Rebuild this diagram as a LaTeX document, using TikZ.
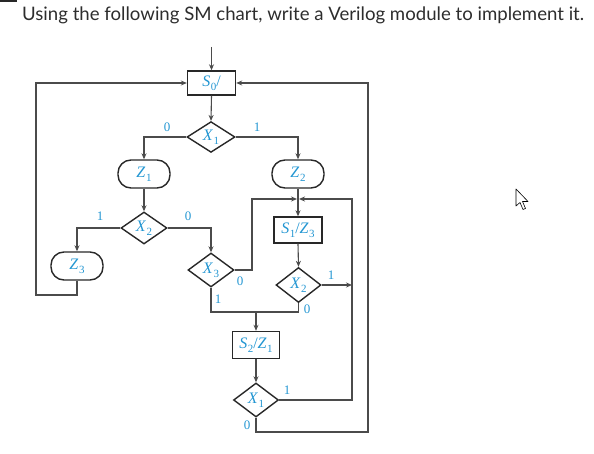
\documentclass[tikz,border=0pt]{standalone}
\usepackage{fontspec}
\setmainfont{Lato}
\newfontfamily\nodefont{Liberation Serif}
\usetikzlibrary{shapes.geometric,arrows.meta}
\definecolor{lbl}{RGB}{35,150,210}
\definecolor{ln}{RGB}{75,75,75}
\definecolor{bd}{RGB}{40,40,40}
\newcommand{\vr}[2]{\textit{#1}\kern0.5pt\raisebox{-0.25em}{\fontsize{11}{11}\selectfont #2}}
\begin{document}
\begin{tikzpicture}[x=1pt,y=-1pt,
  arr/.style={-{Stealth[length=6pt,width=5pt]}},
  conn/.style={draw=ln,line width=1.1pt},
  statebox/.style={draw=bd,line width=1.4pt,rectangle,inner sep=0pt,text=lbl,font=\nodefont\fontsize{16}{16}\selectfont},
  decbox/.style={draw=bd,line width=1.4pt,diamond,inner sep=0pt,text=lbl,font=\nodefont\fontsize{16}{16}\selectfont},
  outbox/.style={draw=bd,line width=1.4pt,rectangle,rounded corners=13pt,inner sep=0pt,minimum width=52pt,minimum height=28pt,text=lbl,font=\nodefont\fontsize{16}{16}\selectfont},
  lab/.style={text=lbl,font=\nodefont\fontsize{13}{13}\selectfont,inner sep=0pt}]
\useasboundingbox (0,0) rectangle (594,454);
\fill[bd] (0,0) rectangle (17,2);
\node[anchor=base west,inner sep=0pt,text={rgb,255:red,45;green,45;blue,45},font=\fontsize{18.6}{18.6}\selectfont] (title) at (22,21) {Using the following SM chart, write a Verilog module to implement it.};
% nodes
\node[statebox,minimum width=48pt,minimum height=24pt] (S0) at (211.5,83) {\vr{S}{0}/};
\node[decbox,minimum width=48pt,minimum height=30pt] (X1a) at (211,137) {\vr{X}{1}};
\node[outbox] (Z1) at (144,174) {\vr{Z}{1}};
\node[outbox] (Z2) at (298,174) {\vr{Z}{2}};
\node[decbox,minimum width=46pt,minimum height=32pt] (X2a) at (144,228) {\vr{X}{2}};
\node[outbox] (Z3) at (77,266) {\vr{Z}{3}};
\node[decbox,minimum width=46pt,minimum height=34pt] (X3) at (211,270) {\vr{X}{3}};
\node[statebox,minimum width=48pt,minimum height=26pt] (S1) at (298,230) {\vr{S}{1}/\vr{Z}{3}};
\node[decbox,minimum width=45pt,minimum height=35pt] (X2b) at (298.5,285) {\vr{X}{2}};
\node[statebox,minimum width=47pt,minimum height=27pt] (S2) at (256,345) {\vr{S}{2}/\vr{Z}{1}};
\node[decbox,minimum width=45pt,minimum height=34pt] (X1b) at (256,400) {\vr{X}{1}};
% coordinates
\coordinate (start) at (211.5,47);
\coordinate (la) at (77,295);
\coordinate (lb) at (36,295);
\coordinate (lc) at (36,83);
\coordinate (j1) at (298,199);
\coordinate (ra) at (252,270);
\coordinate (rb) at (252,199);
\coordinate (m1) at (211,312);
\coordinate (m2) at (298.5,312);
\coordinate (mj) at (256,312);
\coordinate (ea) at (352,285);
\coordinate (ba) at (352,400);
\coordinate (bb) at (352,199);
\coordinate (ca) at (256,432);
\coordinate (cb) at (368,432);
\coordinate (cc) at (368,83);
% connectors
\draw[conn,arr] (start) -- (S0.north);
\draw[conn,arr] (S0.south) -- (X1a.north);
\draw[conn,arr] (X1a.west) -| (Z1.north);
\draw[conn,arr] (X1a.east) -| (Z2.north);
\draw[conn,arr] (Z1.south) -- (X2a.north);
\draw[conn,arr] (X2a.west) -| (Z3.north);
\draw[conn,arr] (X2a.east) -| (X3.north);
\draw[conn,arr] (Z3.south) -- (la) -- (lb) -- (lc) -- (S0.west);
\draw[conn,arr] (Z2.south) -- (S1.north);
\draw[conn,arr] (X3.east) -- (ra) -- (rb) -- ([xshift=-1pt]j1);
\draw[conn,arr] (S1.south) -- (X2b.north);
\draw[conn,arr] (X2b.east) -- (ea);
\draw[conn] (X3.south) -- (m1) -- (mj);
\draw[conn] (X2b.south) -- (m2) -- (mj);
\draw[conn,arr] (mj) -- (S2.north);
\draw[conn,arr] (S2.south) -- (X1b.north);
\draw[conn,arr] (X1b.east) -- (ba) -- (bb) -- ([xshift=1pt]j1);
\draw[conn,arr] (X1b.south) -- (ca) -- (cb) -- (cc) -- (S0.east);
% labels
\node[lab] (l0a) at (167,127) {0};
\node[lab] (l1a) at (257,127) {1};
\node[lab] (l1b) at (100,216) {1};
\node[lab] (l0b) at (188,216) {0};
\node[lab] (l0c) at (240,281) {0};
\node[lab] (l1c) at (218,299) {1};
\node[lab] (l1d) at (331,275) {1};
\node[lab] (l0d) at (307,309) {0};
\node[lab] (l1e) at (287,390) {1};
\node[lab] (l0e) at (247,425) {0};
% cursor
\draw[black,line width=0.6pt,fill=white,line join=round] (516,189) -- (516,206) -- (520,202.5) -- (523,209.5) -- (525.5,208.5) -- (522.5,201.5) -- (528,201.5) -- cycle;
\end{tikzpicture}
\end{document}
